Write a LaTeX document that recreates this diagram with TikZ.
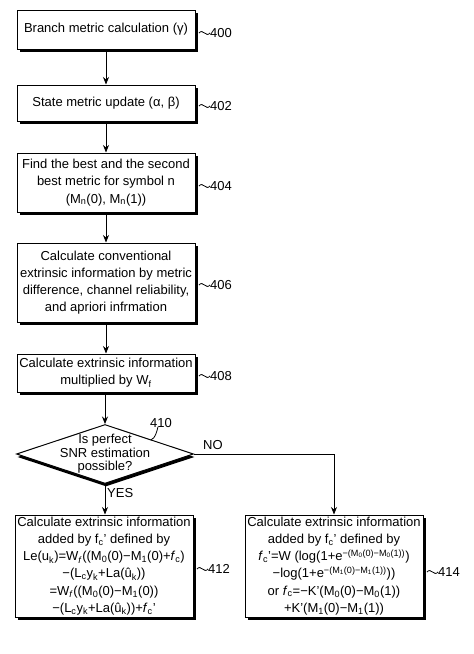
\documentclass[tikz,border=0pt]{standalone}
\usepackage{fontspec}
\setmainfont{Liberation Sans}
\usetikzlibrary{shapes.geometric,shadows,arrows.meta,calc}
\begin{document}
\begin{tikzpicture}[x=1pt,y=-1pt,
  box/.style={draw,line width=1pt,fill=white,minimum width=178pt,align=center,inner sep=0pt,
    font=\fontsize{13}{17.2}\selectfont,
    drop shadow={shadow xshift=3pt,shadow yshift=-3pt,fill=black,opacity=1}},
  arr/.style={-{Stealth[length=7.5pt,width=6pt]},line width=0.9pt},
  num/.style={font=\fontsize{13}{15}\selectfont,inner sep=0pt},
  tilde/.style={line width=0.8pt}]
\useasboundingbox (0,0) rectangle (474,654);

\node[box,minimum height=39pt] (b400) at (106,29.5) {Branch metric calculation (γ)};
\node[box,minimum height=36pt] (b402) at (106,103) {State metric update (α, β)};
\node[box,minimum height=59pt] (b404) at (106,182.5) {Find the best and the second\\best metric for symbol n\\(M\textsubscript{n}(0), M\textsubscript{n}(1))};
\node[box,minimum height=79pt] (b406) at (106,282.5) {Calculate conventional\\extrinsic information by metric\\difference, channel reliability,\\and apriori infrmation};
\node[box,minimum height=38pt] (b408) at (106,373) {Calculate extrinsic information\\multiplied by W\textsubscript{f}};

\node[diamond,draw,line width=1pt,fill=white,minimum width=177pt,minimum height=59pt,inner sep=0pt,
  drop shadow={shadow xshift=1pt,shadow yshift=-3pt,fill=black,opacity=1}] (d410) at (105,454) {};
\node[font=\fontsize{13}{13.5}\selectfont,align=center,inner sep=0pt] (t410) at (105,454) {Is perfect\\SNR estimation\\possible?};

\node[box,minimum height=102pt] (b412) at (104,566) {Calculate extrinsic information\\added by f\textsubscript{c}' defined by\\Le(u\textsubscript{k})=W\textsubscript{\textit{f}}((M\textsubscript{0}(0)−M\textsubscript{1}(0)+\textit{f}\textsubscript{c})\\−(L\textsubscript{c}y\textsubscript{k}+La(û\textsubscript{k}))\\=W\textsubscript{\textit{f}}((M\textsubscript{0}(0)−M\textsubscript{1}(0))\\−(L\textsubscript{c}y\textsubscript{k}+La(û\textsubscript{k}))+\textit{f}\textsubscript{c}'};
\node[box,minimum height=102pt] (b414) at (334,566) {Calculate extrinsic information\\added by f\textsubscript{c}' defined by\\\textit{f}\textsubscript{c}'=W (log(1+e\textsuperscript{−(M\textsubscript{0}(0)−M\textsubscript{0}(1))})\\−log(1+e\textsuperscript{−(M\textsubscript{1}(0)−M\textsubscript{1}(1))}))\\or \textit{f}\textsubscript{c}=−K'(M\textsubscript{0}(0)−M\textsubscript{0}(1))\\+K'(M\textsubscript{1}(0)−M\textsubscript{1}(1))};

% arrows
\draw[arr] (b400) -- (b402);
\draw[arr] (b402) -- (b404);
\draw[arr] (b404) -- (b406);
\draw[arr] (b406) -- (b408);
\draw[arr] (b408.south -| d410.north) -- (d410.north);
\draw[arr] (d410.south) -- (d410.south |- b412.north);
\draw[arr] (d410.east) -| (b414.north);

\node[num,anchor=west] (no) at (203,445) {NO};
\node[num,anchor=west] (yes) at (107,493) {YES};

% reference numerals
\node[num,anchor=west] (l400) at (210,33) {400};
\node[num,anchor=west] (l402) at (210,106) {402};
\node[num,anchor=west] (l404) at (210,186) {404};
\node[num,anchor=west] (l406) at (210,285) {406};
\node[num,anchor=west] (l408) at (210,376) {408};
\node[num,anchor=west] (l412) at (208,569) {412};
\node[num,anchor=west] (l414) at (438,572) {414};
\foreach \l in {l400,l402,l404,l406,l408,l412,l414}
  \draw[tilde] (\l.west) ++(-11,0) .. controls +(4,-5) and +(-4,5) .. (\l.west);

\node[num] (l410) at (161,423) {410};
\draw[tilde] ($(d410.north)!0.52!(d410.east)$) .. controls +(4,-1) and +(-1,4) .. ([xshift=-3pt,yshift=1pt]l410.south);
\end{tikzpicture}
\end{document}
